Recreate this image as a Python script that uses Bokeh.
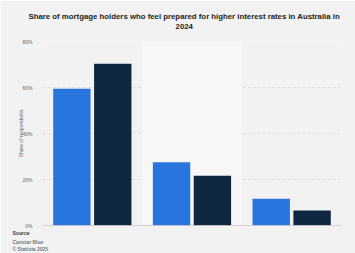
from bokeh.plotting import figure
from bokeh.models import FactorRange, Title, PrintfTickFormatter, FixedTicker, Span
from bokeh.transform import dodge
from bokeh.embed import file_html
from bokeh.resources import INLINE

categories = ["Prepared", "Somewhat prepared", "Not prepared"]
series_a = [59.5, 27.5, 11.6]
series_b = [70.3, 21.6, 6.5]
y_ticks = [0, 20, 40, 60, 80]

BG = "#f2f2f2"
FONT = "Liberation Sans"
FRAME_LEFT = 42

p = figure(width=355, height=253, x_range=FactorRange(factors=categories, range_padding=0),
           y_range=(0, 80), output_backend="svg", toolbar_location=None,
           background_fill_color=BG, border_fill_color=BG, outline_line_color=None,
           min_border_left=FRAME_LEFT, min_border_right=14, min_border_top=41, min_border_bottom=28)

# lighter middle band
p.rect(x=[categories[1]], y=[40], width=1, height=80, fill_color="#f7f7f7", line_color=None)

src = dict(cat=categories, a=series_a, b=series_b)
p.vbar(x=dodge("cat", -0.205, range=p.x_range), top="a", width=0.375,
       source=src, fill_color="#2876dd", line_color=None)
p.vbar(x=dodge("cat", 0.205, range=p.x_range), top="b", width=0.375,
       source=src, fill_color="#0f2740", line_color=None)

p.xgrid.grid_line_color = None
p.ygrid.grid_line_color = "#dcdcdc"
p.ygrid.grid_line_dash = "3 2"
p.ygrid.grid_line_width = 0.8
p.ygrid.ticker = FixedTicker(ticks=y_ticks)

p.xaxis.visible = False
p.add_layout(Span(location=0, dimension="width", line_color="#b0b0b0", line_width=1))

p.yaxis.ticker = FixedTicker(ticks=y_ticks)
p.yaxis.formatter = PrintfTickFormatter(format="%d%%")
p.yaxis.axis_line_color = None
p.yaxis.major_tick_line_color = None
p.yaxis.minor_tick_line_color = None
p.yaxis.major_tick_out = 0
p.yaxis.major_label_text_font_size = "5px"
p.yaxis.major_label_text_color = "#666666"
p.yaxis.major_label_text_font = FONT
p.yaxis.major_label_standoff = 10
p.yaxis.axis_label = "Share of respondents"
p.yaxis.axis_label_text_font_size = "5px"
p.yaxis.axis_label_text_color = "#666666"
p.yaxis.axis_label_text_font = FONT
p.yaxis.axis_label_text_font_style = "normal"
p.yaxis.axis_label_standoff = -5

title_text = "Share of mortgage holders who feel prepared for higher interest rates in Australia in\n2024"
p.add_layout(Title(text=title_text, align="left", offset=28 - FRAME_LEFT, text_align="center",
                   vertical_align="top", standoff=17, text_line_height=1.1,
                   text_font_size="7.8px", text_font=FONT, text_color="#222222",
                   text_font_style="bold"), "above")

p.add_layout(Title(text="Source", align="left", offset=12 - FRAME_LEFT, standoff=4,
                   text_font_size="5px", text_font=FONT, text_color="#333333",
                   text_font_style="bold"), "below")
p.add_layout(Title(text="Canstar Blue\n\u00a9 Statista 2025", align="left", offset=12 - FRAME_LEFT,
                   standoff=0, text_line_height=1.2,
                   text_font_size="5px", text_font=FONT, text_color="#777777"), "below")

open("out.html", "w").write(file_html(p, INLINE))
